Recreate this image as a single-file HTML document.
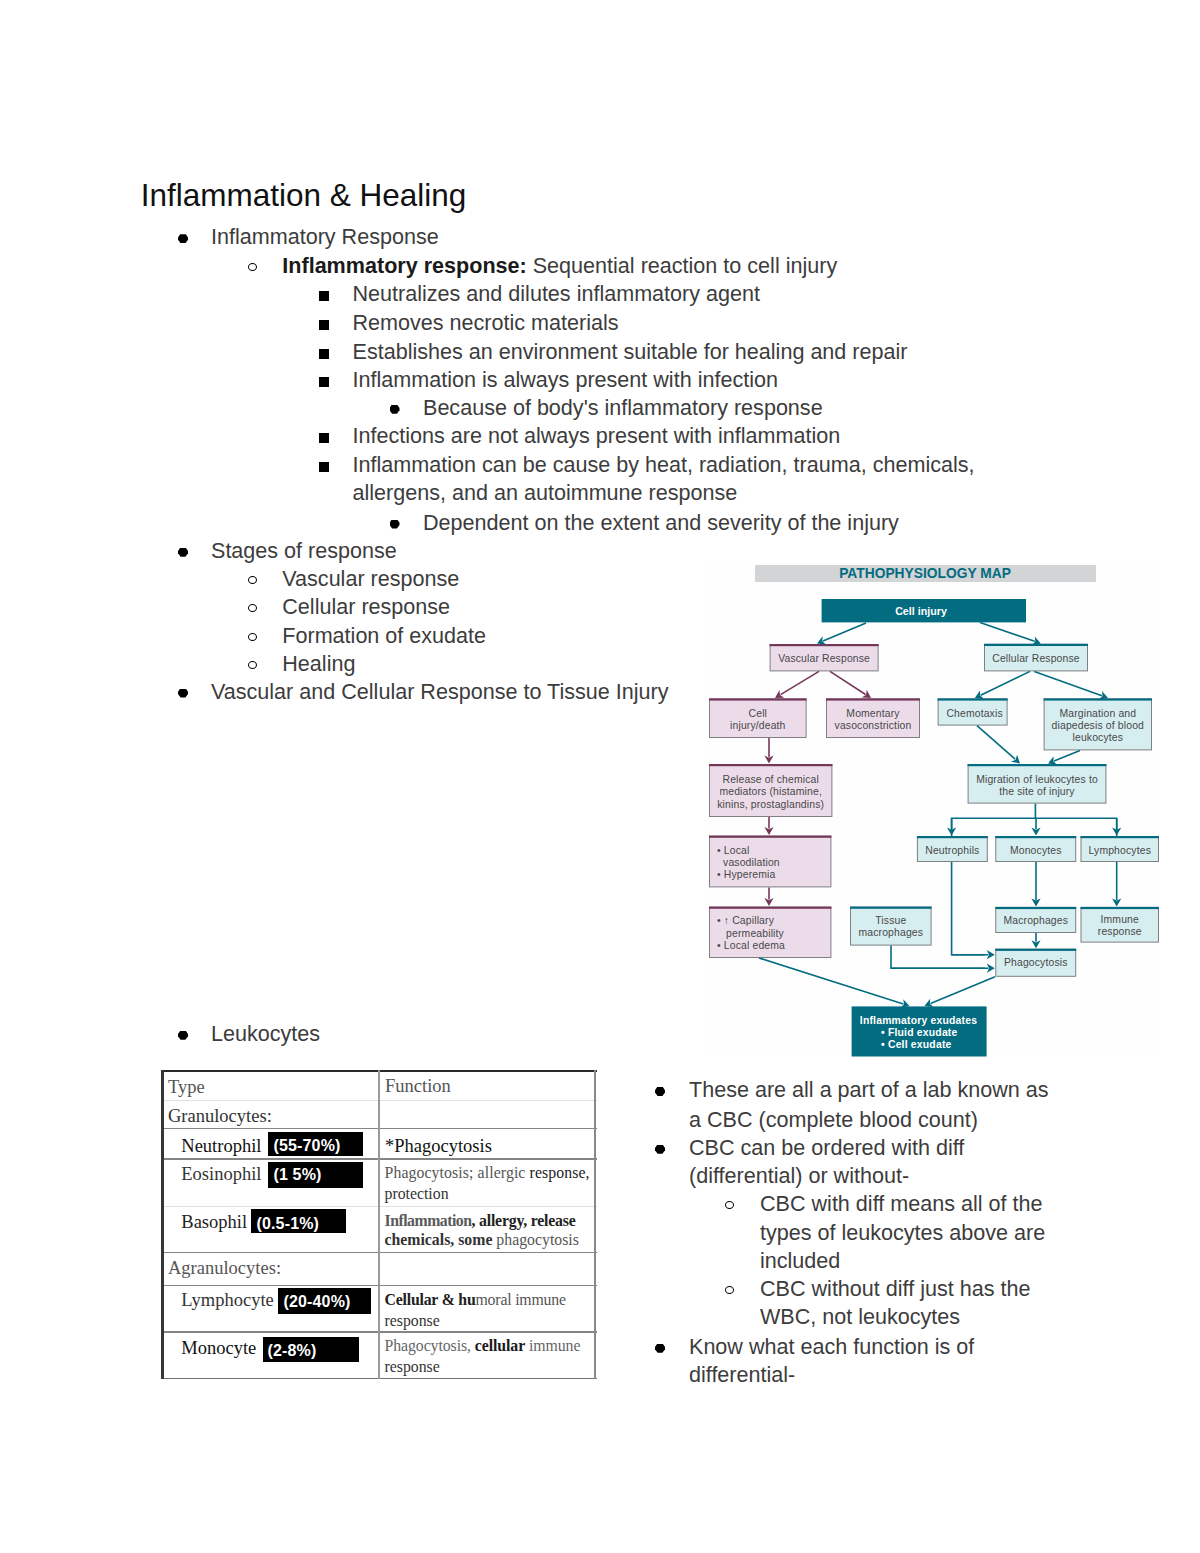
<!DOCTYPE html>
<html><head><meta charset="utf-8">
<style>
html,body{margin:0;padding:0;background:#fff;}
body{width:1200px;height:1553px;position:relative;overflow:hidden;font-family:"Liberation Sans",sans-serif;color:#000;}
.t{position:absolute;white-space:nowrap;font-size:21.57px;line-height:28px;color:#3c3c3c;}
.b0{position:absolute;width:10px;height:9px;background:#000;clip-path:polygon(22% 0,78% 0,100% 35%,100% 62%,74% 100%,26% 100%,0 62%,0 35%);}
.b1{position:absolute;width:7px;height:6px;border:1.5px solid #000;border-radius:50%;}
b{color:#1a1a1a}
.b2{position:absolute;width:10px;height:10px;background:#000;}
</style></head><body>
<div class="t" style="left:140.7px;top:175.2px;font-size:31.5px;line-height:40px;color:#111">Inflammation &amp; Healing</div>
<div class="b0" style="left:178px;top:234.25px"></div>
<div class="t" style="left:211px;top:223.25px">Inflammatory Response</div>
<div class="b1" style="left:248.3px;top:262.75px"></div>
<div class="t" style="left:282.3px;top:251.75px"><b>Inflammatory response:</b> Sequential reaction to cell injury</div>
<div class="b2" style="left:319px;top:291.00px"></div>
<div class="t" style="left:352.5px;top:280.00px">Neutralizes and dilutes inflammatory agent</div>
<div class="b2" style="left:319px;top:320.00px"></div>
<div class="t" style="left:352.5px;top:309.00px">Removes necrotic materials</div>
<div class="b2" style="left:319px;top:349.00px"></div>
<div class="t" style="left:352.5px;top:338.00px">Establishes an environment suitable for healing and repair</div>
<div class="b2" style="left:319px;top:377.00px"></div>
<div class="t" style="left:352.5px;top:366.00px">Inflammation is always present with infection</div>
<div class="b0" style="left:389.5px;top:404.75px"></div>
<div class="t" style="left:423px;top:393.75px">Because of body&#39;s inflammatory response</div>
<div class="b2" style="left:319px;top:433.25px"></div>
<div class="t" style="left:352.5px;top:422.25px">Infections are not always present with inflammation</div>
<div class="b2" style="left:319px;top:462.00px"></div>
<div class="t" style="left:352.5px;top:451.00px">Inflammation can be cause by heat, radiation, trauma, chemicals,</div>
<div class="t" style="left:352.5px;top:478.75px">allergens, and an autoimmune response</div>
<div class="b0" style="left:389.5px;top:519.50px"></div>
<div class="t" style="left:423px;top:508.50px">Dependent on the extent and severity of the injury</div>
<div class="b0" style="left:178px;top:547.75px"></div>
<div class="t" style="left:211px;top:536.75px">Stages of response</div>
<div class="b1" style="left:248.3px;top:576.00px"></div>
<div class="t" style="left:282.3px;top:565.00px">Vascular response</div>
<div class="b1" style="left:248.3px;top:604.00px"></div>
<div class="t" style="left:282.3px;top:593.00px">Cellular response</div>
<div class="b1" style="left:248.3px;top:632.50px"></div>
<div class="t" style="left:282.3px;top:621.50px">Formation of exudate</div>
<div class="b1" style="left:248.3px;top:660.75px"></div>
<div class="t" style="left:282.3px;top:649.75px">Healing</div>
<div class="b0" style="left:178px;top:688.50px"></div>
<div class="t" style="left:211px;top:677.50px">Vascular and Cellular Response to Tissue Injury</div>
<div class="b0" style="left:178px;top:1030.75px"></div>
<div class="t" style="left:211px;top:1019.75px">Leukocytes</div>
<div class="b0" style="left:655px;top:1087.00px"></div>
<div class="t" style="left:689px;top:1076.00px">These are all a part of a lab known as</div>
<div class="t" style="left:689px;top:1105.50px">a CBC (complete blood count)</div>
<div class="b0" style="left:655px;top:1144.75px"></div>
<div class="t" style="left:689px;top:1133.75px">CBC can be ordered with diff</div>
<div class="t" style="left:689px;top:1161.75px">(differential) or without-</div>
<div class="b1" style="left:725.3px;top:1201.00px"></div>
<div class="t" style="left:760px;top:1190.00px">CBC with diff means all of the</div>
<div class="t" style="left:760px;top:1218.75px">types of leukocytes above are</div>
<div class="t" style="left:760px;top:1246.80px">included</div>
<div class="b1" style="left:725.3px;top:1285.80px"></div>
<div class="t" style="left:760px;top:1274.80px">CBC without diff just has the</div>
<div class="t" style="left:760px;top:1303.00px">WBC, not leukocytes</div>
<div class="b0" style="left:655px;top:1343.75px"></div>
<div class="t" style="left:689px;top:1332.75px">Know what each function is of</div>
<div class="t" style="left:689px;top:1360.75px">differential-</div>
<svg style="position:absolute;left:0;top:0" width="1200" height="1553" viewBox="0 0 1200 1553">
<rect x="709" y="564" width="450" height="493" fill="#fefefe"/>
<rect x="755" y="565" width="341" height="17" fill="#d3d4d6"/>
<text x="925" y="578.3" font-family="Liberation Sans" font-weight="bold" font-size="13.8" fill="#046c80" text-anchor="middle">PATHOPHYSIOLOGY MAP</text>
<rect x="821.6" y="599" width="204.4" height="23.4" fill="#046c80"/>
<text x="921" y="615" font-family="Liberation Sans" font-weight="bold" font-size="10.7" fill="#fff" text-anchor="middle">Cell injury</text>
<rect x="770.1" y="644.5" width="108.0" height="26.399999999999977" fill="#ecdcea" stroke="#7f7f84" stroke-width="1"/>
<rect x="769.6" y="644" width="109.0" height="2.2" fill="#76385a"/>
<text x="824.1" y="662.4" font-family="Liberation Sans" font-size="10.4" fill="#484848" letter-spacing="0.15" text-anchor="middle" xml:space="preserve">Vascular Response</text>
<rect x="709.5" y="698.9" width="96.60000000000002" height="38.60000000000002" fill="#ecdcea" stroke="#7f7f84" stroke-width="1"/>
<rect x="709" y="698.4" width="97.60000000000002" height="2.2" fill="#76385a"/>
<text x="757.8" y="717" font-family="Liberation Sans" font-size="10.4" fill="#484848" letter-spacing="0.15" text-anchor="middle" xml:space="preserve">Cell</text>
<text x="757.8" y="729" font-family="Liberation Sans" font-size="10.4" fill="#484848" letter-spacing="0.15" text-anchor="middle" xml:space="preserve">injury/death</text>
<rect x="826.5" y="698.9" width="93" height="38.60000000000002" fill="#ecdcea" stroke="#7f7f84" stroke-width="1"/>
<rect x="826" y="698.4" width="94" height="2.2" fill="#76385a"/>
<text x="873.0" y="717" font-family="Liberation Sans" font-size="10.4" fill="#484848" letter-spacing="0.15" text-anchor="middle" xml:space="preserve">Momentary</text>
<text x="873.0" y="729" font-family="Liberation Sans" font-size="10.4" fill="#484848" letter-spacing="0.15" text-anchor="middle" xml:space="preserve">vasoconstriction</text>
<rect x="709.5" y="764.5" width="122.39999999999998" height="52" fill="#ecdcea" stroke="#7f7f84" stroke-width="1"/>
<rect x="709" y="764" width="123.39999999999998" height="2.2" fill="#76385a"/>
<text x="770.7" y="782.5" font-family="Liberation Sans" font-size="10.4" fill="#484848" letter-spacing="0.15" text-anchor="middle" xml:space="preserve">Release of chemical</text>
<text x="770.7" y="795.0" font-family="Liberation Sans" font-size="10.4" fill="#484848" letter-spacing="0.15" text-anchor="middle" xml:space="preserve">mediators (histamine,</text>
<text x="770.7" y="807.5" font-family="Liberation Sans" font-size="10.4" fill="#484848" letter-spacing="0.15" text-anchor="middle" xml:space="preserve">kinins, prostaglandins)</text>
<rect x="709.5" y="836.1" width="121.39999999999998" height="50.799999999999955" fill="#ecdcea" stroke="#7f7f84" stroke-width="1"/>
<rect x="709" y="835.6" width="122.39999999999998" height="2.2" fill="#76385a"/>
<text x="717" y="853.5" font-family="Liberation Sans" font-size="10.4" fill="#484848" letter-spacing="0.15" text-anchor="start" xml:space="preserve">• Local</text>
<text x="717" y="865.8" font-family="Liberation Sans" font-size="10.4" fill="#484848" letter-spacing="0.15" text-anchor="start" xml:space="preserve">  vasodilation</text>
<text x="717" y="878.1" font-family="Liberation Sans" font-size="10.4" fill="#484848" letter-spacing="0.15" text-anchor="start" xml:space="preserve">• Hyperemia</text>
<rect x="709.5" y="907.1" width="121.39999999999998" height="50.39999999999998" fill="#ecdcea" stroke="#7f7f84" stroke-width="1"/>
<rect x="709" y="906.6" width="122.39999999999998" height="2.2" fill="#76385a"/>
<text x="717" y="924.0" font-family="Liberation Sans" font-size="10.4" fill="#484848" letter-spacing="0.15" text-anchor="start" xml:space="preserve">• ↑ Capillary</text>
<text x="717" y="936.5" font-family="Liberation Sans" font-size="10.4" fill="#484848" letter-spacing="0.15" text-anchor="start" xml:space="preserve">   permeability</text>
<text x="717" y="949.0" font-family="Liberation Sans" font-size="10.4" fill="#484848" letter-spacing="0.15" text-anchor="start" xml:space="preserve">• Local edema</text>
<rect x="984.5" y="644.3" width="103" height="26.600000000000023" fill="#d7eef1" stroke="#7f7f84" stroke-width="1"/>
<rect x="984" y="643.8" width="104" height="2.2" fill="#046c80"/>
<text x="1036.0" y="662.4" font-family="Liberation Sans" font-size="10.4" fill="#484848" letter-spacing="0.15" text-anchor="middle" xml:space="preserve">Cellular Response</text>
<rect x="938.1" y="698.9" width="69.0" height="26.200000000000045" fill="#d7eef1" stroke="#7f7f84" stroke-width="1"/>
<rect x="937.6" y="698.4" width="70.0" height="2.2" fill="#046c80"/>
<text x="974.6" y="716.5" font-family="Liberation Sans" font-size="10.4" fill="#484848" letter-spacing="0.15" text-anchor="middle" xml:space="preserve">Chemotaxis</text>
<rect x="1044.1" y="698.9" width="107.40000000000009" height="51.0" fill="#d7eef1" stroke="#7f7f84" stroke-width="1"/>
<rect x="1043.6" y="698.4" width="108.40000000000009" height="2.2" fill="#046c80"/>
<text x="1097.8" y="716.5" font-family="Liberation Sans" font-size="10.4" fill="#484848" letter-spacing="0.15" text-anchor="middle" xml:space="preserve">Margination and</text>
<text x="1097.8" y="728.8" font-family="Liberation Sans" font-size="10.4" fill="#484848" letter-spacing="0.15" text-anchor="middle" xml:space="preserve">diapedesis of blood</text>
<text x="1097.8" y="741.1" font-family="Liberation Sans" font-size="10.4" fill="#484848" letter-spacing="0.15" text-anchor="middle" xml:space="preserve">leukocytes</text>
<rect x="968.1" y="764.5" width="137.80000000000007" height="38.60000000000002" fill="#d7eef1" stroke="#7f7f84" stroke-width="1"/>
<rect x="967.6" y="764" width="138.80000000000007" height="2.2" fill="#046c80"/>
<text x="1037.0" y="782.5" font-family="Liberation Sans" font-size="10.4" fill="#484848" letter-spacing="0.15" text-anchor="middle" xml:space="preserve">Migration of leukocytes to</text>
<text x="1037.0" y="794.8" font-family="Liberation Sans" font-size="10.4" fill="#484848" letter-spacing="0.15" text-anchor="middle" xml:space="preserve">the site of injury</text>
<rect x="917.4" y="836.5" width="69.89999999999998" height="25" fill="#d7eef1" stroke="#7f7f84" stroke-width="1"/>
<rect x="916.9" y="836" width="70.89999999999998" height="2.2" fill="#046c80"/>
<text x="952.3499999999999" y="853.5" font-family="Liberation Sans" font-size="10.4" fill="#484848" letter-spacing="0.15" text-anchor="middle" xml:space="preserve">Neutrophils</text>
<rect x="995.8" y="836.5" width="79.90000000000009" height="25" fill="#d7eef1" stroke="#7f7f84" stroke-width="1"/>
<rect x="995.3" y="836" width="80.90000000000009" height="2.2" fill="#046c80"/>
<text x="1035.75" y="853.5" font-family="Liberation Sans" font-size="10.4" fill="#484848" letter-spacing="0.15" text-anchor="middle" xml:space="preserve">Monocytes</text>
<rect x="1081.0" y="836.5" width="77.5" height="25" fill="#d7eef1" stroke="#7f7f84" stroke-width="1"/>
<rect x="1080.5" y="836" width="78.5" height="2.2" fill="#046c80"/>
<text x="1119.75" y="853.5" font-family="Liberation Sans" font-size="10.4" fill="#484848" letter-spacing="0.15" text-anchor="middle" xml:space="preserve">Lymphocytes</text>
<rect x="850.5" y="907.1" width="80.60000000000002" height="38.0" fill="#d7eef1" stroke="#7f7f84" stroke-width="1"/>
<rect x="850" y="906.6" width="81.60000000000002" height="2.2" fill="#046c80"/>
<text x="890.8" y="924.0" font-family="Liberation Sans" font-size="10.4" fill="#484848" letter-spacing="0.15" text-anchor="middle" xml:space="preserve">Tissue</text>
<text x="890.8" y="936.3" font-family="Liberation Sans" font-size="10.4" fill="#484848" letter-spacing="0.15" text-anchor="middle" xml:space="preserve">macrophages</text>
<rect x="995.8" y="907.4" width="79.90000000000009" height="25.100000000000023" fill="#d7eef1" stroke="#7f7f84" stroke-width="1"/>
<rect x="995.3" y="906.9" width="80.90000000000009" height="2.2" fill="#046c80"/>
<text x="1035.75" y="924.0" font-family="Liberation Sans" font-size="10.4" fill="#484848" letter-spacing="0.15" text-anchor="middle" xml:space="preserve">Macrophages</text>
<rect x="1081.0" y="907.4" width="77.5" height="34.700000000000045" fill="#d7eef1" stroke="#7f7f84" stroke-width="1"/>
<rect x="1080.5" y="906.9" width="78.5" height="2.2" fill="#046c80"/>
<text x="1119.75" y="922.5" font-family="Liberation Sans" font-size="10.4" fill="#484848" letter-spacing="0.15" text-anchor="middle" xml:space="preserve">Immune</text>
<text x="1119.75" y="934.8" font-family="Liberation Sans" font-size="10.4" fill="#484848" letter-spacing="0.15" text-anchor="middle" xml:space="preserve">response</text>
<rect x="995.8" y="949.2" width="79.90000000000009" height="27.09999999999991" fill="#d7eef1" stroke="#7f7f84" stroke-width="1"/>
<rect x="995.3" y="948.7" width="80.90000000000009" height="2.2" fill="#046c80"/>
<text x="1035.75" y="966.0" font-family="Liberation Sans" font-size="10.4" fill="#484848" letter-spacing="0.15" text-anchor="middle" xml:space="preserve">Phagocytosis</text>
<rect x="851.6" y="1006.4" width="135" height="50.1" fill="#046c80"/>
<text x="918.5" y="1023.5" font-family="Liberation Sans" font-weight="bold" font-size="10.4" fill="#fff" text-anchor="middle" letter-spacing="0.2">Inflammatory exudates</text>
<text x="881" y="1035.5" font-family="Liberation Sans" font-weight="bold" font-size="10.4" fill="#fff" letter-spacing="0.2">• Fluid exudate</text>
<text x="881" y="1047.5" font-family="Liberation Sans" font-weight="bold" font-size="10.4" fill="#fff" letter-spacing="0.2">• Cell exudate</text>
<line x1="866" y1="623" x2="822.9963731469236" y2="640.9913132752666" stroke="#046c80" stroke-width="1.6"/>
<polygon points="817,643.5 822.6047732679408,636.1687984194284 822.3506098849472,641.2614795379303 826.155529862948,644.6559727196895" fill="#046c80"/>
<line x1="980" y1="622.4" x2="1034.659273532034" y2="641.3689255185184" stroke="#046c80" stroke-width="1.6"/>
<polygon points="1040.8,643.5 1031.7340377909932,645.222883984737 1035.3205825362763,641.5984258472932 1034.7503278263212,636.5313942146928" fill="#046c80"/>
<line x1="819" y1="671.4" x2="780.5625182284962" y2="694.6372048891365" stroke="#76385a" stroke-width="1.6"/>
<polygon points="775,698 779.4663520489225,689.924623886463 779.9634778038888,694.9993520549217 784.2260005135295,697.7977266098728" fill="#76385a"/>
<line x1="830" y1="671.4" x2="865.5470798792096" y2="694.4622518240725" stroke="#76385a" stroke-width="1.6"/>
<polygon points="871,698 861.7850765268323,697.5048380228025 866.1343174306793,694.8432400891724 866.792350868145,689.7868587749144" fill="#76385a"/>
<line x1="1030" y1="671.4" x2="980.6555891374293" y2="695.1782849446445" stroke="#046c80" stroke-width="1.6"/>
<polygon points="974.8,698 980.0099728991999,690.3831645423048 980.0249872303215,695.4821619506058 984.0037849775491,698.6710753214355" fill="#046c80"/>
<line x1="1034.3" y1="671.4" x2="1101.8860316661173" y2="695.7933302892635" stroke="#046c80" stroke-width="1.6"/>
<polygon points="1108,698 1098.9134727168541,699.6109071769181 1102.544459025151,696.0309716427274 1102.0367590766657,690.9572904581921" fill="#046c80"/>
<line x1="769" y1="738" x2="769.0" y2="757.0" stroke="#76385a" stroke-width="1.6"/>
<polygon points="769,763.5 764.4,755.5 769.0,757.7 773.6,755.5" fill="#76385a"/>
<line x1="977" y1="725.6" x2="1015.1237380808676" y2="759.2020854247647" stroke="#046c80" stroke-width="1.6"/>
<polygon points="1020,763.5 1010.9568457847475,761.6611520347888 1015.6488739798511,759.6649377636362 1017.0400479527729,754.7593659338629" fill="#046c80"/>
<line x1="1080" y1="750.4" x2="1054.0154561533113" y2="761.0374226372381" stroke="#046c80" stroke-width="1.6"/>
<polygon points="1048,763.5 1053.6608912858132,756.212043506565 1053.3676377983393,761.3026232763049 1057.146385399261,764.7262276004827" fill="#046c80"/>
<line x1="769" y1="817" x2="769.0" y2="828.5" stroke="#76385a" stroke-width="1.6"/>
<polygon points="769,835 764.4,827.0 769.0,829.2 773.6,827.0" fill="#76385a"/>
<line x1="769" y1="887.4" x2="769.0" y2="899.5" stroke="#76385a" stroke-width="1.6"/>
<polygon points="769,906 764.4,898.0 769.0,900.2 773.6,898.0" fill="#76385a"/>
<polyline points="1035.4,803.6 1035.4,818.2" fill="none" stroke="#046c80" stroke-width="1.6"/>
<polyline points="951.6,836 951.6,818.2 1116.7,818.2 1116.7,836" fill="none" stroke="#046c80" stroke-width="1.6"/>
<line x1="951.6" y1="818.2" x2="951.6" y2="829.0" stroke="#046c80" stroke-width="1.6"/>
<polygon points="951.6,835.5 947.0,827.5 951.6,829.7 956.2,827.5" fill="#046c80"/>
<line x1="1036" y1="818.2" x2="1036.0" y2="829.0" stroke="#046c80" stroke-width="1.6"/>
<polygon points="1036,835.5 1031.4,827.5 1036.0,829.7 1040.6,827.5" fill="#046c80"/>
<line x1="1116.7" y1="818.2" x2="1116.7" y2="829.0" stroke="#046c80" stroke-width="1.6"/>
<polygon points="1116.7,835.5 1112.1000000000001,827.5 1116.7,829.7 1121.3,827.5" fill="#046c80"/>
<line x1="1036" y1="862" x2="1036.0" y2="899.9" stroke="#046c80" stroke-width="1.6"/>
<polygon points="1036,906.4 1031.4,898.4 1036.0,900.6 1040.6,898.4" fill="#046c80"/>
<line x1="1116.7" y1="862" x2="1116.7" y2="899.9" stroke="#046c80" stroke-width="1.6"/>
<polygon points="1116.7,906.4 1112.1000000000001,898.4 1116.7,900.6 1121.3,898.4" fill="#046c80"/>
<line x1="1036" y1="933" x2="1036.0" y2="941.7" stroke="#046c80" stroke-width="1.6"/>
<polygon points="1036,948.2 1031.4,940.2 1036.0,942.4000000000001 1040.6,940.2" fill="#046c80"/>
<polyline points="951.6,862 951.6,954.7 985,954.7" fill="none" stroke="#046c80" stroke-width="1.6"/>
<line x1="951.6" y1="954.7" x2="988.3" y2="954.7" stroke="#046c80" stroke-width="1.6"/>
<polygon points="994.8,954.7 986.8,959.3000000000001 989.0,954.7 986.8,950.1" fill="#046c80"/>
<polyline points="891,945.6 891,968.2 985,968.2" fill="none" stroke="#046c80" stroke-width="1.6"/>
<line x1="891" y1="968.2" x2="988.3" y2="968.2" stroke="#046c80" stroke-width="1.6"/>
<polygon points="994.8,968.2 986.8,972.8000000000001 989.0,968.2 986.8,963.6" fill="#046c80"/>
<line x1="759" y1="958" x2="903.3073348745891" y2="1004.0249307241214" stroke="#046c80" stroke-width="1.6"/>
<polygon points="909.5,1006 900.4805169734879,1007.9516469799787 903.9742372727103,1004.237630492293 903.2759996408853,999.1866440332433" fill="#046c80"/>
<line x1="995" y1="976.8" x2="930.5052788826489" y2="1003.5127071861937" stroke="#046c80" stroke-width="1.6"/>
<polygon points="924.5,1006 930.1308744796434,998.6888268660562 929.8585565414405,1003.780569489219 933.6513504622615,1007.1886062076514" fill="#046c80"/>
</svg>
<div style="position:absolute;left:161.5px;top:1100px;width:435.0px;height:1.2px;background:#e0e0e0"></div>
<div style="position:absolute;left:161.5px;top:1127.8px;width:435.0px;height:1.7px;background:#858585"></div>
<div style="position:absolute;left:161.5px;top:1158px;width:435.0px;height:1.7px;background:#858585"></div>
<div style="position:absolute;left:161.5px;top:1206px;width:435.0px;height:1.2px;background:#e0e0e0"></div>
<div style="position:absolute;left:161.5px;top:1251.5px;width:435.0px;height:1.7px;background:#858585"></div>
<div style="position:absolute;left:161.5px;top:1284.5px;width:435.0px;height:1.7px;background:#858585"></div>
<div style="position:absolute;left:161.5px;top:1331.2px;width:435.0px;height:1.7px;background:#858585"></div>
<div style="position:absolute;left:161.5px;top:1069.8px;width:435.0px;height:2px;background:#2a2a2a"></div>
<div style="position:absolute;left:161.5px;top:1377.7px;width:435.0px;height:1.7px;background:#707070"></div>
<div style="position:absolute;left:161px;top:1069.8px;width:3px;height:309.60000000000014px;background:#363636"></div>
<div style="position:absolute;left:594.3px;top:1069.8px;width:1.8px;height:309.60000000000014px;background:#8a8a8a"></div>
<div style="position:absolute;left:378.2px;top:1069.8px;width:1.7px;height:309.60000000000014px;background:#999999"></div>
<div style="position:absolute;left:268.2px;top:1132px;width:94.69999999999999px;height:23.90000000000009px;background:#000"></div>
<div style="position:absolute;left:268.2px;top:1161.8px;width:94.69999999999999px;height:26.600000000000136px;background:#000"></div>
<div style="position:absolute;left:251.2px;top:1208.6px;width:94.5px;height:24.90000000000009px;background:#000"></div>
<div style="position:absolute;left:278.2px;top:1287.8px;width:93.0px;height:26.200000000000045px;background:#000"></div>
<div style="position:absolute;left:262.7px;top:1337px;width:95.90000000000003px;height:25px;background:#000"></div>
<div style="position:absolute;left:168px;top:1077.5px;line-height:18.5px;white-space:nowrap;font-family:'Liberation Serif',serif;font-size:18.5px;color:#555;">Type</div>
<div style="position:absolute;left:168px;top:1106.5px;line-height:18.5px;white-space:nowrap;font-family:'Liberation Serif',serif;font-size:18.5px;color:#333;">Granulocytes:</div>
<div style="position:absolute;left:181.3px;top:1136.6px;line-height:18.5px;white-space:nowrap;font-family:'Liberation Serif',serif;font-size:18.5px;color:#111;">Neutrophil</div>
<div style="position:absolute;left:181.3px;top:1165.4px;line-height:18.5px;white-space:nowrap;font-family:'Liberation Serif',serif;font-size:18.5px;color:#333;">Eosinophil</div>
<div style="position:absolute;left:181.3px;top:1212.8px;line-height:18.5px;white-space:nowrap;font-family:'Liberation Serif',serif;font-size:18.5px;color:#222;">Basophil</div>
<div style="position:absolute;left:168px;top:1258.8px;line-height:18.5px;white-space:nowrap;font-family:'Liberation Serif',serif;font-size:18.5px;color:#555;">Agranulocytes:</div>
<div style="position:absolute;left:181.3px;top:1291.4px;line-height:18.5px;white-space:nowrap;font-family:'Liberation Serif',serif;font-size:18.5px;color:#333;">Lymphocyte</div>
<div style="position:absolute;left:181.3px;top:1339.3px;line-height:18.5px;white-space:nowrap;font-family:'Liberation Serif',serif;font-size:18.5px;color:#111;">Monocyte</div>
<div style="position:absolute;left:273.5px;top:1137.8px;line-height:16px;white-space:nowrap;font-family:'Liberation Sans',sans-serif;font-size:16px;color:#fff;font-weight:bold;letter-spacing:0.15px">(55-70%)</div>
<div style="position:absolute;left:273.5px;top:1167.3px;line-height:16px;white-space:nowrap;font-family:'Liberation Sans',sans-serif;font-size:16px;color:#fff;font-weight:bold;letter-spacing:0.15px">(1 5%)</div>
<div style="position:absolute;left:256.5px;top:1215.5px;line-height:16px;white-space:nowrap;font-family:'Liberation Sans',sans-serif;font-size:16px;color:#fff;font-weight:bold;letter-spacing:0.15px">(0.5-1%)</div>
<div style="position:absolute;left:283.5px;top:1294px;line-height:16px;white-space:nowrap;font-family:'Liberation Sans',sans-serif;font-size:16px;color:#fff;font-weight:bold;letter-spacing:0.15px">(20-40%)</div>
<div style="position:absolute;left:267.5px;top:1343px;line-height:16px;white-space:nowrap;font-family:'Liberation Sans',sans-serif;font-size:16px;color:#fff;font-weight:bold;letter-spacing:0.15px">(2-8%)</div>
<div style="position:absolute;left:385px;top:1077.3px;line-height:18.5px;white-space:nowrap;font-family:'Liberation Serif',serif;font-size:18.5px;color:#555;">Function</div>
<div style="position:absolute;left:385px;top:1136.6px;line-height:18.5px;white-space:nowrap;font-family:'Liberation Serif',serif;font-size:18.5px;color:#111;">*Phagocytosis</div>
<div style="position:absolute;left:384.5px;top:1165.3px;line-height:15.8px;white-space:nowrap;font-family:'Liberation Serif',serif;font-size:15.8px;color:#555;letter-spacing:0.1px">Phagocytosis; allergic <span style="color:#222">response,</span></div>
<div style="position:absolute;left:384.5px;top:1186px;line-height:15.8px;white-space:nowrap;font-family:'Liberation Serif',serif;font-size:15.8px;color:#333;">protection</div>
<div style="position:absolute;left:384.5px;top:1213px;line-height:15.8px;white-space:nowrap;font-family:'Liberation Serif',serif;font-size:15.8px;color:#222;font-weight:bold;letter-spacing:-0.2px"><span style="color:#5a5a5a;letter-spacing:-0.5px">Inflammation</span>, allergy, release</div>
<div style="position:absolute;left:384.5px;top:1232.4px;line-height:15.8px;white-space:nowrap;font-family:'Liberation Serif',serif;font-size:15.8px;color:#555;"><b style="color:#333">chemicals, some</b> phagocytosis</div>
<div style="position:absolute;left:384.5px;top:1292px;line-height:15.8px;white-space:nowrap;font-family:'Liberation Serif',serif;font-size:15.8px;color:#555;letter-spacing:-0.2px"><b style="color:#222">Cellular &amp; hu</b>moral immune</div>
<div style="position:absolute;left:384.5px;top:1313px;line-height:15.8px;white-space:nowrap;font-family:'Liberation Serif',serif;font-size:15.8px;color:#333;">response</div>
<div style="position:absolute;left:384.5px;top:1338.4px;line-height:15.8px;white-space:nowrap;font-family:'Liberation Serif',serif;font-size:15.8px;color:#666;letter-spacing:-0.07px">Phagocytosis, <b style="color:#1a1a1a">cellular</b> immune</div>
<div style="position:absolute;left:384.5px;top:1359px;line-height:15.8px;white-space:nowrap;font-family:'Liberation Serif',serif;font-size:15.8px;color:#333;">response</div>
</body></html>
